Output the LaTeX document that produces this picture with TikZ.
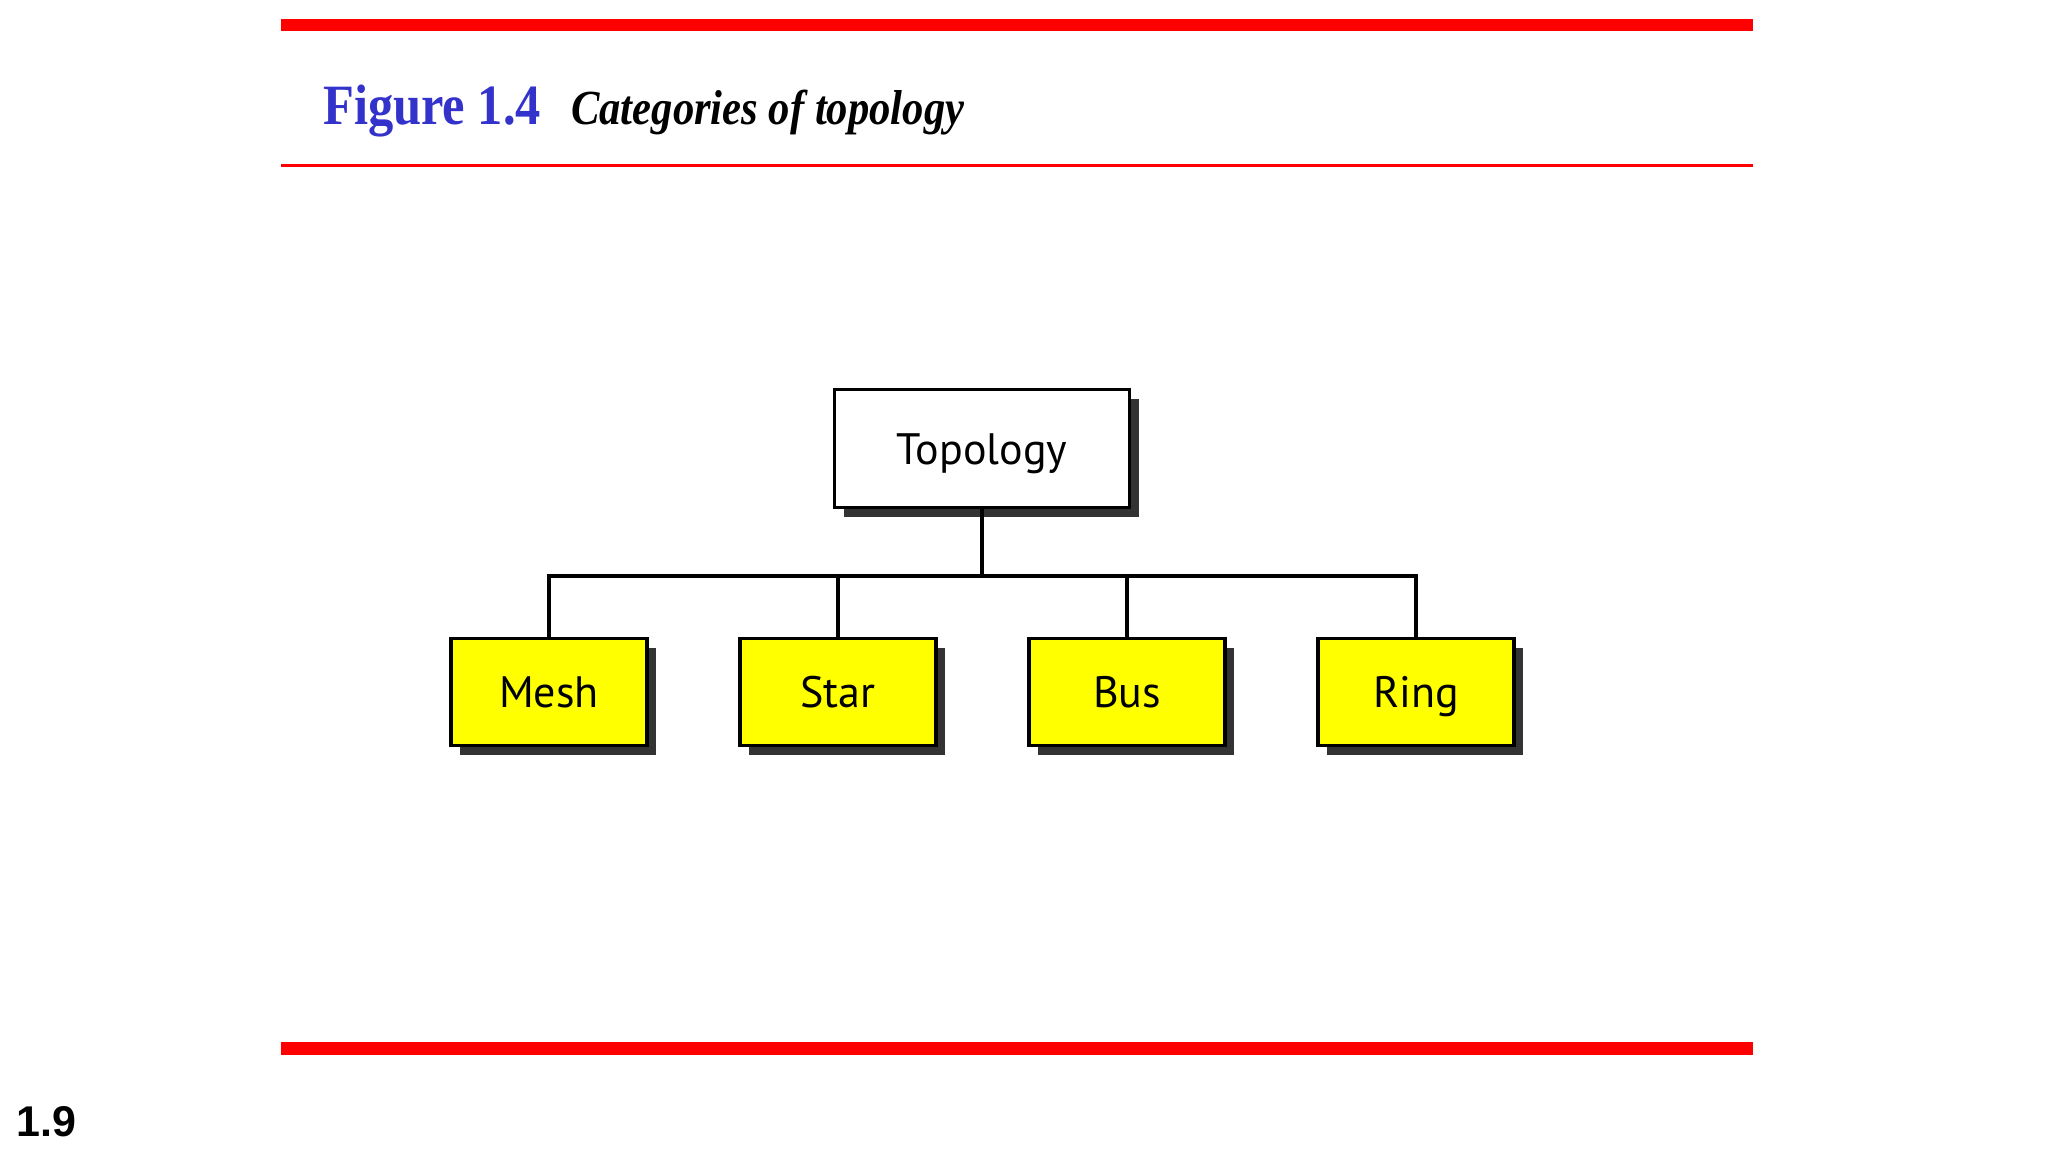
\documentclass[tikz,border=0pt]{standalone}
\usepackage{fontspec}
\setmainfont{Liberation Serif}
\newfontfamily\boxfont{PT Sans}
\newfontfamily\numfont{Liberation Sans}
\usetikzlibrary{shadows}
\definecolor{figblue}{RGB}{51,51,204}
\definecolor{barred}{RGB}{255,0,0}
\definecolor{boxyellow}{RGB}{255,255,0}
\tikzset{
  catbox/.style={draw=black, line width=3.5pt, inner sep=0pt,
    text height=32pt, text depth=1pt,
    font=\boxfont\fontsize{44}{50}\selectfont,
    drop shadow={shadow xshift=9pt, shadow yshift=-9pt, fill=black!80, opacity=1}},
  rootbox/.style={catbox, fill=white, minimum width=295pt, minimum height=118pt},
  leafbox/.style={catbox, fill=boxyellow, minimum width=196pt, minimum height=107pt},
  conn/.style={draw=black, line width=4pt}
}
\begin{document}
\begin{tikzpicture}[x=1pt,y=-1pt]
\useasboundingbox (0,0) rectangle (2048,1152);
\fill[white] (0,0) rectangle (2048,1152);
% rules
\fill[barred] (281,19) rectangle (1753,31);
\fill[barred] (281,164) rectangle (1753,167);
\fill[barred] (281,1042) rectangle (1753,1055);
% title
\node[anchor=base west, text=figblue, inner sep=0pt,
  font=\bfseries\fontsize{57}{60}\selectfont] (fig) at (323,124)
  {\scalebox{0.886}[1]{Figure 1.4}};
\node[anchor=base west, inner sep=0pt,
  font=\bfseries\itshape\fontsize{49}{55}\selectfont] (cap) at (571,124)
  {\scalebox{0.87}[1]{Categories of topology}};
% nodes
\node[rootbox] (topo) at (982,448.5) {Topology};
\node[leafbox] (mesh) at (549,692) {Mesh};
\node[leafbox] (star) at (838,692) {Star};
\node[leafbox] (bus)  at (1127,692) {Bus};
\node[leafbox] (ring) at (1416,692) {Ring};
% connectors
\coordinate (bar) at (982,576);
\draw[conn] (topo.south) -- (bar);
\draw[conn] (mesh.north) |- (bar) -| (ring.north);
\draw[conn] (star.north) -- (star.north |- bar);
\draw[conn] (bus.north) -- (bus.north |- bar);
% page number
\node[anchor=base west, inner sep=0pt,
  font=\numfont\bfseries\fontsize{43}{50}\selectfont] (pg) at (16,1136) {1.9};
\end{tikzpicture}
\end{document}
